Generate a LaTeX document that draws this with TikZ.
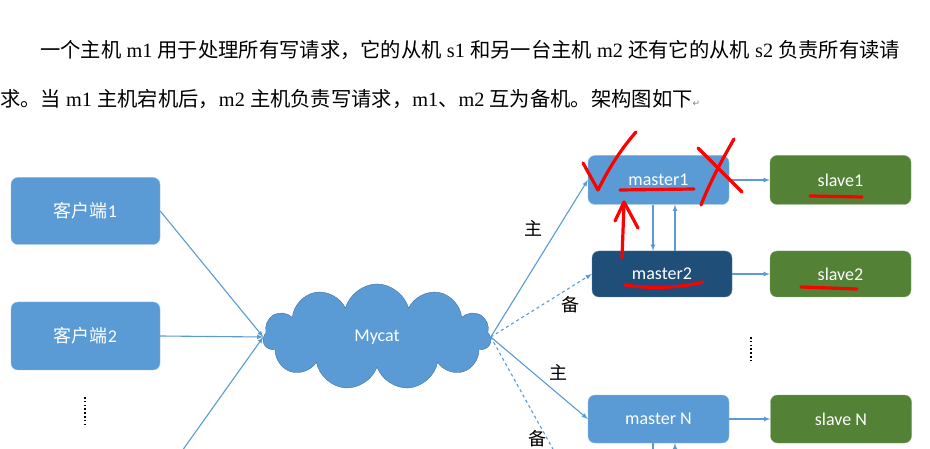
\documentclass[tikz,border=0pt]{standalone}
\usepackage{fontspec}
\setmainfont{Liberation Serif}
\newfontfamily\cjk{Noto Sans CJK SC}
\newfontfamily\calib{Carlito}
\newfontfamily\symb{DejaVu Sans}
\usepackage{tikz}
\usetikzlibrary{arrows,shapes.symbols}
\definecolor{boxblue}{HTML}{5B9BD5}
\definecolor{darkblue}{HTML}{1F4E79}
\definecolor{boxgreen}{HTML}{538135}
\tikzset{
box/.style={rectangle,rounded corners=7pt,draw=#1!70!white,fill=#1,text=white,font=\calib\fontsize{18}{20}\selectfont,minimum width=141pt,minimum height=49pt,inner sep=0pt},
link/.style={draw=boxblue,line width=1.1pt,-latex},
backup/.style={link,dashed},
tag/.style={font=\cjk\fontsize{18}{20}\selectfont},
redpen/.style={draw=red,line width=3.2pt,line cap=round,line join=round}
}

\begin{document}
\begin{tikzpicture}[x=1pt,y=-1pt]
\useasboundingbox[fill=white] (0,0) rectangle (930,449);
\node[anchor=base west,inner sep=0pt,font=\fontsize{20.3}{24}\selectfont] (line1) at (40,58) {\makebox[860pt][s]{{\cjk 一个主机} m1 {\cjk 用于处理所有写请求，它的从机} s1 {\cjk 和另一台主机} m2 {\cjk 还有它的从机} s2 {\cjk 负责所有读请}}};
\node[anchor=base west,inner sep=0pt,font=\fontsize{20.3}{24}\selectfont] (line2) at (0,107) {{\cjk 求。当} m1 {\cjk 主机宕机后，}m2 {\cjk 主机负责写请求，}m1{\cjk 、}m2 {\cjk 互为备机。架构图如下}{\symb\fontsize{9}{10}\selectfont\color{gray}↵}};
\node[box=boxblue,minimum width=149pt,minimum height=67pt] (client1) at (85.5,211) {{\cjk 客户端}1};
\node[box=boxblue,minimum width=149pt,minimum height=68pt] (client2) at (85.5,336) {{\cjk 客户端}2};
\coordinate (clientN) at (182,451);
\draw[line width=1.6pt,dash pattern=on 1.6pt off 2.2pt] (85,397) -- (85,424);
\node[cloud,cloud puffs=11,aspect=2.1,fill=boxblue,draw=boxblue!75!black,text=white,font=\calib\fontsize{18}{20}\selectfont,minimum width=228pt,minimum height=106pt,inner sep=0pt] (mycat) at (377,337) {Mycat};
\node[box=boxblue] (master1) at (658.5,180) {master1};
\node[box=darkblue,minimum width=140pt,minimum height=46pt] (master2) at (662,274) {master2};
\node[box=boxgreen] (slave1) at (840.5,180) {slave1};
\node[box=boxgreen,minimum height=46pt] (slave2) at (840.5,274) {slave2};
\node[box=boxblue,minimum height=48pt] (masterN) at (658.5,419) {master N};
\node[box=boxgreen,minimum height=48pt] (slaveN) at (841,419) {slave N};
\draw[line width=1.6pt,dash pattern=on 1.6pt off 2.2pt] (751,337) -- (751,363);
\coordinate (backupN) at (554,451);
\coordinate (belowA) at (653,452);
\coordinate (belowB) at (675,468);
\draw[link] (client1.east) -- (mycat.west);
\draw[link] (client2.east) -- (mycat.west);
\draw[link] (clientN) -- (mycat.west);
\draw[link] (mycat.east) -- (master1.west);
\draw[backup] (mycat.east) -- (master2.west);
\draw[link] (mycat.east) -- (masterN.west);
\draw[backup,-] (mycat.east) -- (backupN);
\draw[link] (master1) -- (slave1);
\draw[link] (master2) -- (slave2);
\draw[link] (masterN) -- (slaveN);
\draw[link] ([xshift=-5.5pt]master1.south) -- ([xshift=-9pt]master2.north);
\draw[link] ([xshift=13pt]master2.north) -- ([xshift=16.5pt]master1.south);
\draw[link,-] ([xshift=-5.5pt]masterN.south) -- (belowA);
\draw[link] (belowB) -- ([xshift=16.5pt]masterN.south);
\node[tag] (main1) at (533,228) {主};
\node[tag] (spare1) at (570,305) {备};
\node[tag] (main2) at (558,372) {主};
\node[tag] (spare2) at (537,439) {备};
\draw[redpen] (583,163) -- (598,190) .. controls (610,166) and (622,148) .. (636,132);
\draw[redpen] (620,190) -- (694,189);
\draw[redpen] (698,148) -- (742,192);
\draw[redpen] (734,139) .. controls (722,160) and (710,182) .. (701,205);
\draw[redpen] (622,258) -- (624,204);
\draw[redpen] (615,221) -- (624,202) -- (638,228);
\draw[redpen] (625,285) .. controls (650,289) and (680,288) .. (703,282);
\draw[redpen] (810,196) -- (862,197);
\draw[redpen] (801,287) -- (857,289);
\end{tikzpicture}
\end{document}
